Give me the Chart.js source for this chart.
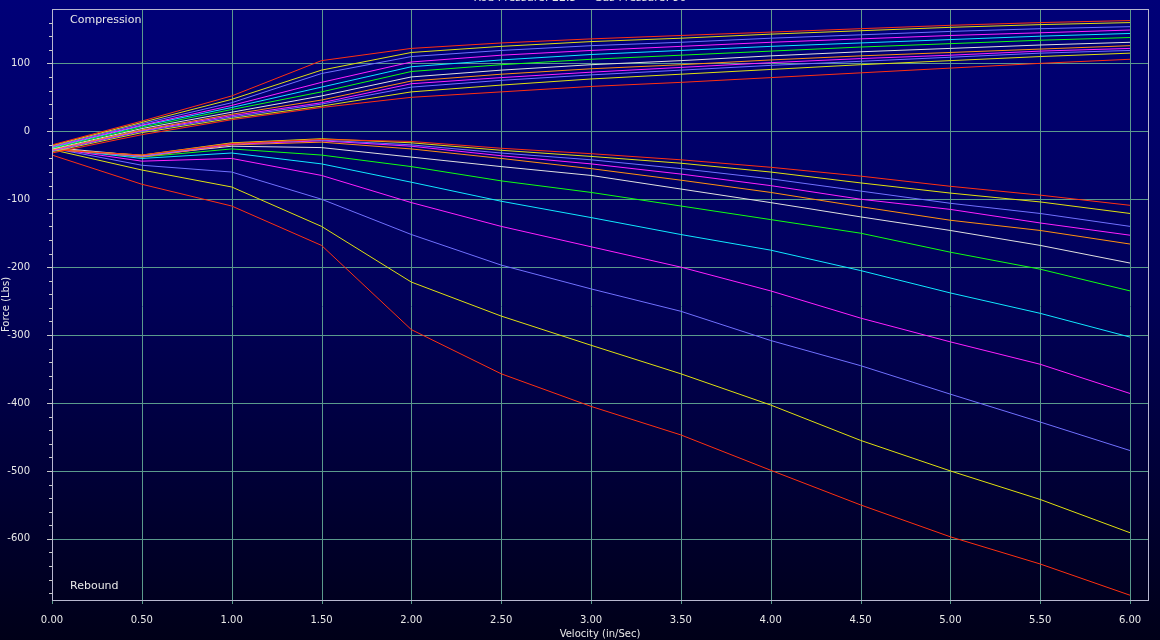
<!DOCTYPE html>
<html>
<head>
<meta charset="utf-8">
<script src="https://cdn.jsdelivr.net/npm/chart.js@4"></script>
<style>
  html, body { margin: 0; padding: 0; background: #000; overflow: hidden; }
  #wrap { width: 1160px; height: 640px; overflow: hidden; background: linear-gradient(#000078 0%, #00005a 45%, #000018 100%); }
  #chart { display: block; margin-top: -11px; }
</style>
</head>
<body>
<div id="wrap"><canvas id="chart" width="1160" height="651"></canvas></div>
<script>
// velocity points (in/sec)
const velocity = [0, 0.5, 1, 1.5, 2, 2.5, 3, 3.5, 4, 4.5, 5, 5.5, 6];
const forceTicks = [-600, -500, -400, -300, -200, -100, 0, 100];

// compression curves, top to bottom
const comp1 = [-20, 15, 52, 104, 122, 130, 136, 141, 146, 151, 156, 160, 163];
const comp2 = [-21, 13, 47, 90, 116, 125, 132, 137, 143, 148, 153, 157, 160];
const comp3 = [-22, 11, 42, 85, 110, 119, 126, 131, 137, 142, 147, 151, 154];
const comp4 = [-23, 9, 38, 72, 102, 112, 119, 125, 131, 136, 141, 145, 149];
const comp5 = [-24, 8, 35, 65, 95, 105, 113, 119, 125, 130, 135, 140, 144];
const comp6 = [-25, 6, 32, 58, 88, 98, 106, 112, 118, 124, 129, 134, 138];
const comp7 = [-26, 4, 28, 52, 80, 90, 98, 104, 111, 117, 122, 127, 131];
const comp8 = [-27, 2, 25, 46, 74, 84, 92, 98, 105, 111, 116, 121, 126];
const comp9 = [-28, 1, 23, 42, 70, 79, 87, 94, 101, 107, 112, 118, 122];
const comp10 = [-29, 0, 21, 40, 65, 75, 83, 90, 97, 103, 109, 115, 119];
const comp11 = [-30, -2, 19, 37, 58, 68, 77, 84, 91, 98, 104, 110, 115];
const comp12 = [-32, -5, 17, 35, 50, 58, 66, 72, 79, 86, 93, 100, 106];

// rebound curves, top to bottom
const reb1 = [-27, -35, -18, -12, -15, -25, -33, -42, -53, -66, -81, -94, -109];
const reb2 = [-27, -35, -17, -11, -17, -28, -37, -47, -60, -76, -91, -104, -121];
const reb3 = [-26, -37, -18, -13, -20, -32, -42, -55, -70, -88, -106, -121, -140];
const reb4 = [-26, -37, -19, -14, -22, -36, -48, -63, -80, -100, -115, -135, -153];
const reb5 = [-25, -38, -20, -16, -26, -40, -55, -72, -90, -111, -131, -146, -166];
const reb6 = [-24, -36, -22, -24, -38, -52, -65, -85, -105, -126, -146, -168, -194];
const reb7 = [-25, -38, -26, -35, -52, -73, -90, -110, -130, -150, -178, -203, -235];
const reb8 = [-25, -40, -32, -48, -75, -103, -127, -152, -175, -205, -238, -268, -303];
const reb9 = [-25, -44, -40, -65, -105, -140, -170, -200, -235, -275, -310, -343, -386];
const reb10 = [-25, -50, -60, -100, -152, -197, -232, -265, -308, -345, -387, -428, -470];
const reb11 = [-27, -57, -82, -140, -222, -272, -315, -357, -403, -455, -500, -542, -591];
const reb12 = [-35, -78, -110, -168, -292, -357, -405, -447, -499, -550, -597, -637, -683];

const compColors = ['#ff3010', '#e0e010', '#7070ff', '#ff20ff', '#10e8ff', '#10ff10',
                    '#e0e0e0', '#ff9010', '#ff20ff', '#7070ff', '#e0e010', '#ff3010'];
const rebColors = ['#ff3010', '#e0e010', '#7070ff', '#ff20ff', '#ff9010', '#e0e0e0',
                   '#10ff10', '#10e8ff', '#ff20ff', '#7070ff', '#e0e010', '#ff3010'];

const compression = [comp1, comp2, comp3, comp4, comp5, comp6, comp7, comp8, comp9, comp10, comp11, comp12];
const rebound = [reb1, reb2, reb3, reb4, reb5, reb6, reb7, reb8, reb9, reb10, reb11, reb12];

function toSet(vals, color) {
    return {
        data: vals.map((v, k) => ({ x: velocity[k], y: v })),
        borderColor: color,
        borderWidth: 1,
        pointRadius: 0,
        fill: false,
        tension: 0
    };
}
const datasets = compression.map((c, i) => toSet(c, compColors[i]))
    .concat(rebound.map((r, i) => toSet(r, rebColors[i])));

// grid lines drawn on whole pixels so they all look the same
const grid = {
    id: 'grid',
    beforeDatasetsDraw(chart) {
        const { ctx, chartArea: a, scales: { x, y } } = chart;
        ctx.save();
        ctx.strokeStyle = '#5a9a8c';
        ctx.lineWidth = 1;
        velocity.forEach(v => {
            const px = Math.round(x.getPixelForValue(v)) + 0.5;
            ctx.beginPath(); ctx.moveTo(px, a.top); ctx.lineTo(px, a.bottom + 4); ctx.stroke();
        });
        forceTicks.forEach(v => {
            const py = Math.round(y.getPixelForValue(v)) + 0.5;
            ctx.beginPath(); ctx.moveTo(a.left, py); ctx.lineTo(a.right, py); ctx.stroke();
        });
        ctx.restore();
    }
};

// frame, title and corner labels
const decor = {
    id: 'decor',
    afterDraw(chart) {
        const { ctx, chartArea: a } = chart;
        ctx.save();
        ctx.strokeStyle = '#b8b8d0';
        ctx.lineWidth = 1;
        ctx.strokeRect(Math.round(a.left) + 0.5, Math.round(a.top) + 0.5, Math.round(a.width), Math.round(a.height));
        ctx.fillStyle = '#e8e8e8';
        ctx.font = '11px "DejaVu Sans"';
        ctx.textBaseline = 'top';
        ctx.fillText('Compression', a.left + 18, a.top + 6);
        ctx.textBaseline = 'bottom';
        ctx.fillText('Rebound', a.left + 18, a.bottom - 8);
        ctx.textAlign = 'center';
        ctx.textBaseline = 'top';
        ctx.fillText('Rod Pressure: 22.5     Gas Pressure: 90', 580, 4);
        // minor y ticks
        const y = chart.scales.y;
        ctx.strokeStyle = '#c8c8c8';
        for (let v = -680; v <= 170; v += 20) {
            const py = Math.round(y.getPixelForValue(v)) + 0.5;
            ctx.beginPath();
            ctx.moveTo(a.left - (v % 100 === 0 ? 5 : 3), py);
            ctx.lineTo(a.left, py);
            ctx.stroke();
        }
        ctx.restore();
    }
};

new Chart(document.getElementById('chart'), {
    type: 'line',
    data: { datasets },
    plugins: [grid, decor],
    options: {
        responsive: false,
        animation: false,
        layout: { padding: { top: 0, right: 12 } },
        plugins: { legend: { display: false }, tooltip: { enabled: false } },
        scales: {
            x: {
                type: 'linear', min: 0, max: 6.1,
                afterBuildTicks: s => { s.ticks = velocity.map(v => ({ value: v })); },
                grid: { display: false },
                border: { display: false },
                ticks: { color: '#e8e8e8', font: { size: 10, family: 'DejaVu Sans' }, maxRotation: 0, padding: 6,
                         callback: v => v.toFixed(2) },
                title: { display: true, text: 'Velocity (in/Sec)', color: '#e8e8e8', font: { size: 10, family: 'DejaVu Sans' }, padding: 0 },
                afterFit: s => { s.height = 40; }
            },
            y: {
                type: 'linear', min: -690, max: 180,
                afterBuildTicks: s => { s.ticks = forceTicks.map(v => ({ value: v })); },
                grid: { display: false },
                border: { display: false },
                ticks: { color: '#e8e8e8', font: { size: 10, family: 'DejaVu Sans' }, padding: 14 },
                title: { display: true, text: 'Force (Lbs)', color: '#e8e8e8', font: { size: 10, family: 'DejaVu Sans' }, padding: 0 },
                afterFit: s => { s.width = 52; }
            }
        }
    }
});
</script>
</body>
</html>
